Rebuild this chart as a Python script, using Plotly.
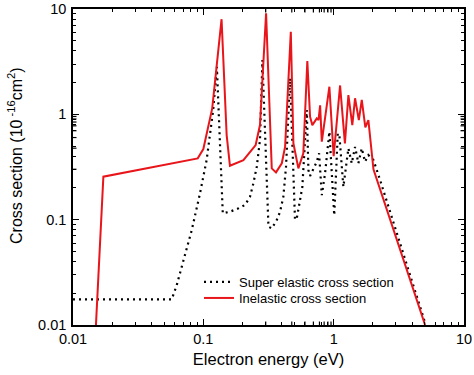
import math
import plotly.graph_objects as go

# Inelastic cross section (red solid)
inel_x = [0.0150, 0.0171, 0.0906, 0.100, 0.117, 0.138, 0.151, 0.160, 0.203, 0.252,
          0.272, 0.303, 0.335, 0.361, 0.400, 0.424, 0.469, 0.491, 0.536, 0.585,
          0.628, 0.659, 0.686, 0.742, 0.765, 0.787, 0.811, 0.927, 1.00, 1.12,
          1.22, 1.297, 1.39, 1.459, 1.56, 1.643, 1.75, 1.846, 2.02, 5.03]
inel_y = [0.0100, 0.256, 0.382, 0.468, 1.14, 8.0, 0.635, 0.325, 0.368, 0.511,
          0.791, 9.1, 0.307, 0.281, 0.343, 0.492, 6.08, 0.531, 0.307, 0.426,
          3.2, 0.95, 0.79, 0.916, 0.88, 1.22, 0.55, 1.83, 0.40, 1.88,
          0.53, 1.52, 0.79, 1.42, 0.88, 1.37, 0.75, 0.88, 0.30, 0.0100]

# Super elastic cross section (black dotted)
sup_x = [0.010, 0.0572, 0.0625, 0.0683, 0.0815, 0.0943, 0.106, 0.119, 0.127, 0.141,
         0.160, 0.186, 0.209, 0.228, 0.242, 0.257, 0.272, 0.284, 0.316, 0.335,
         0.366, 0.388, 0.411, 0.431, 0.449, 0.463, 0.505, 0.521, 0.545, 0.575,
         0.622, 0.640, 0.659, 0.742, 0.773, 0.811, 0.859, 0.927, 1.01, 1.075,
         1.106, 1.187, 1.297, 1.377, 1.459, 1.548, 1.643, 1.74, 1.846, 2.02,
         2.27, 4.22, 5.03]
sup_y = [0.0175, 0.0175, 0.0239, 0.0357, 0.0796, 0.178, 0.368, 1.1, 2.83, 0.115,
         0.119, 0.128, 0.138, 0.165, 0.221, 0.318, 0.57, 3.28, 0.0857, 0.0826,
         0.099, 0.119, 0.165, 0.318, 0.95, 2.2, 0.10, 0.103, 0.14, 0.205,
         1.1, 0.296, 0.26, 0.355, 0.426, 0.171, 0.275, 0.684, 0.11, 0.66,
         0.635, 0.205, 0.475, 0.343, 0.49, 0.343, 0.475, 0.355, 0.41, 0.368,
         0.238, 0.0214, 0.0105]

major_ticks = [0.01, 0.1, 1, 10]
minor_ticks = [m * d for d in (0.01, 0.1, 1) for m in range(2, 10)]

FONT = "Liberation Sans, Arial, sans-serif"
W, H = 474, 375
L, R, T, B = 73, 10, 9, 50
pw, ph = W - L - R, H - T - B

fig = go.Figure()
fig.add_trace(go.Scatter(
    x=sup_x, y=sup_y, mode="lines", name="Super elastic cross section",
    line=dict(color="black", width=2.2, dash="2px,4px"), legend="legend"))
fig.add_trace(go.Scatter(
    x=inel_x, y=inel_y, mode="lines", name="Inelastic cross section",
    line=dict(color="#e8151b", width=2), legend="legend2"))

axis_common = dict(
    type="log", range=[-2, 1], tickmode="linear", tick0=0, dtick=1,
    showline=True, linecolor="black", linewidth=1.6, mirror="ticks",
    ticks="inside", ticklen=6, tickwidth=1.4, tickcolor="black",
    showgrid=False, zeroline=False, automargin=False,
    tickfont=dict(family=FONT, size=14.5, color="black"),
    minor=dict(ticks="inside", ticklen=3.5, tickwidth=1.2, tickcolor="black",
               showgrid=False, dtick="D1"),
)

fig.update_xaxes(title=dict(text="Electron energy (eV)",
                            font=dict(family=FONT, size=16.5, color="black"), standoff=7),
                 **axis_common)
fig.update_yaxes(ticklabelstandoff=2, **axis_common)

# Tick marks on all four sides, positioned through the axes' own log scales
for vals, tlen, tw in ((major_ticks, 6, 1.4), (minor_ticks, 3.5, 1.2)):
    fx, fy = tlen / pw, tlen / ph
    for v in vals:
        lv = math.log10(v)
        if -2 < lv < 1:
            for y0, y1 in ((0, fy), (1, 1 - fy)):
                fig.add_shape(type="line", xref="x", yref="paper", x0=lv, x1=lv, y0=y0, y1=y1,
                              line=dict(color="black", width=tw), layer="above")
            for x0, x1 in ((0, fx), (1, 1 - fx)):
                fig.add_shape(type="line", xref="paper", yref="y", x0=x0, x1=x1, y0=lv, y1=lv,
                              line=dict(color="black", width=tw), layer="above")

# y-axis title placed as an annotation (pixel position from the reference)
fig.add_annotation(
    text="Cross section (10<sup> -16</sup>cm<sup>2</sup>)",
    textangle=-90, xref="paper", yref="paper",
    x=(15 - L) / pw, y=(H - B - 156) / ph, xanchor="center", yanchor="middle",
    showarrow=False, font=dict(family=FONT, size=16, color="black"))

leg_common = dict(xanchor="left", yanchor="middle", bgcolor="rgba(0,0,0,0)", borderwidth=0,
                  font=dict(family=FONT, size=13, color="black"), itemwidth=30)
fig.update_layout(
    width=W, height=H,
    margin=dict(l=L, r=R, t=T, b=B, autoexpand=False),
    paper_bgcolor="white", plot_bgcolor="white",
    showlegend=True,
    legend=dict(x=(199 - L) / pw, y=(H - B - 282) / ph, **leg_common),
    legend2=dict(x=(199 - L) / pw, y=(H - B - 298) / ph, **leg_common),
    font=dict(family=FONT),
)

fig.write_html("out.html", config={"displayModeBar": False},
               post_script="document.body.style.margin='0';document.body.style.overflow='hidden';")
